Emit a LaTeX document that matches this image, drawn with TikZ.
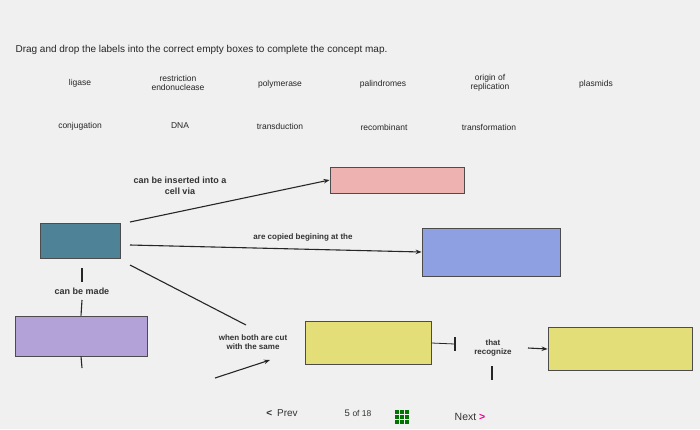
\documentclass[tikz,border=0pt]{standalone}
\usepackage{fontspec}
\setmainfont{Liberation Sans}
\usetikzlibrary{arrows.meta}
\definecolor{cRed}{HTML}{EEB2B0}
\definecolor{cTeal}{HTML}{4E8296}
\definecolor{cPeri}{HTML}{8EA0E2}
\definecolor{cPur}{HTML}{B2A2D8}
\definecolor{cYel}{HTML}{E4DE78}
\begin{document}
\begin{tikzpicture}[x=1pt,y=-1pt,
  lbl/.style={font=\fontsize{8.5}{9.5}\selectfont,text=black!85,align=center},
  bl/.style={font=\bfseries\fontsize{9}{11}\selectfont,text=black!80,align=center},
  bx/.style={draw=black!70,line width=0.8pt},
  ln/.style={draw=black!85,line width=1.1pt},
  ar/.style={ln,-{Stealth[length=6pt]}}]
\useasboundingbox[fill=black!6] (0,0) rectangle (700,429);
\node[anchor=west,font=\fontsize{10}{12}\selectfont,text=black!85] (title) at (12,50) {Drag and drop the labels into the correct empty boxes to complete the concept map.};
\node[lbl] (l1) at (80,83) {ligase};
\node[lbl] (l2) at (178,83) {restriction\\endonuclease};
\node[lbl] (l3) at (280,84) {polymerase};
\node[lbl] (l4) at (383,84) {palindromes};
\node[lbl] (l5) at (490,83) {origin of\\replication};
\node[lbl] (l6) at (596,84) {plasmids};
\node[lbl] (l7) at (80,126) {conjugation};
\node[lbl] (l8) at (180,126) {DNA};
\node[lbl] (l9) at (280,126) {transduction};
\node[lbl] (l10) at (384,127) {recombinant};
\node[lbl] (l11) at (489,127) {transformation};
% boxes
\node[bx,fill=cRed,minimum width=134,minimum height=26] (red) at (397,180) {};
\node[bx,fill=cTeal,minimum width=80,minimum height=35] (b1) at (80,241) {};
\node[bx,fill=cPeri,minimum width=138,minimum height=48] (b2) at (491,252) {};
\node[bx,fill=cPur,minimum width=132,minimum height=40] (pur) at (81,336) {};
\node[bx,fill=cYel,minimum width=126,minimum height=43] (y1) at (368,343) {};
\node[bx,fill=cYel,minimum width=144,minimum height=43] (y2) at (620,349) {};
% texts
\node[bl] (t1) at (180,186) {can be inserted into a\\cell via};
\node[bl,font=\bfseries\fontsize{8}{9.5}\selectfont] (t2) at (303,237) {are copied begining at the};
\node[bl] (t3) at (82,291) {can be made};
\node[bl,font=\bfseries\fontsize{8}{9.5}\selectfont] (t4) at (253,342) {when both are cut\\with the same};
\node[bl,font=\bfseries\fontsize{8}{9.5}\selectfont] (t5) at (493,348) {that\\recognize};
% connectors
\coordinate (a1) at (130,222); \draw[ar] (a1) -- (red.west);
\coordinate (a2) at (130,245); \draw[ar] (a2) -- (b2.west);
\coordinate (a3) at (130,265); \coordinate (a3e) at (246,325); \draw[ln] (a3) -- (a3e);
\coordinate (a4) at (215,378); \coordinate (a4e) at (270,360); \draw[ar] (a4) -- (a4e);
\coordinate (k1) at (82,268); \coordinate (k2) at (82,282); \draw[ln] (k1) -- (k2);
\coordinate (k3) at (82,300); \draw[ln] (k3) -- (pur.north);
\coordinate (k4) at (82,368); \draw[ln] (pur.south) -- (k4);
\coordinate (y1e) at (455,344); \draw[ln,line width=0.8pt] (y1.east) -- (y1e);
\coordinate (k5) at (455,337); \coordinate (k6) at (455,351); \draw[ln] (k5) -- (k6);
\coordinate (a5) at (528,348); \draw[ar] (a5) -- (y2.west);
\coordinate (k7) at (492,366); \coordinate (k8) at (492,380); \draw[ln] (k7) -- (k8);
% footer
\node[font=\fontsize{10}{12}\selectfont,text=black!80] (prev) at (282,413) {\textbf{<}\enspace Prev};
\node[font=\fontsize{9.5}{11}\selectfont,text=black!80] (pg) at (358,413) {5 \fontsize{8.5}{9}\selectfont of 18};
\node[minimum size=15,inner sep=0] (grid) at (402,413) {};
\foreach \i in {0,1,2} \foreach \j in {0,1,2}
  \fill[green!45!black] ([xshift=-7+5*\i,yshift=-7+5*\j]grid.center) rectangle ++(4,4);
\node[font=\fontsize{10.5}{12}\selectfont,text=black!80] (next) at (470,417) {Next \textcolor{magenta}{\textbf{>}}};
\end{tikzpicture}
\end{document}
